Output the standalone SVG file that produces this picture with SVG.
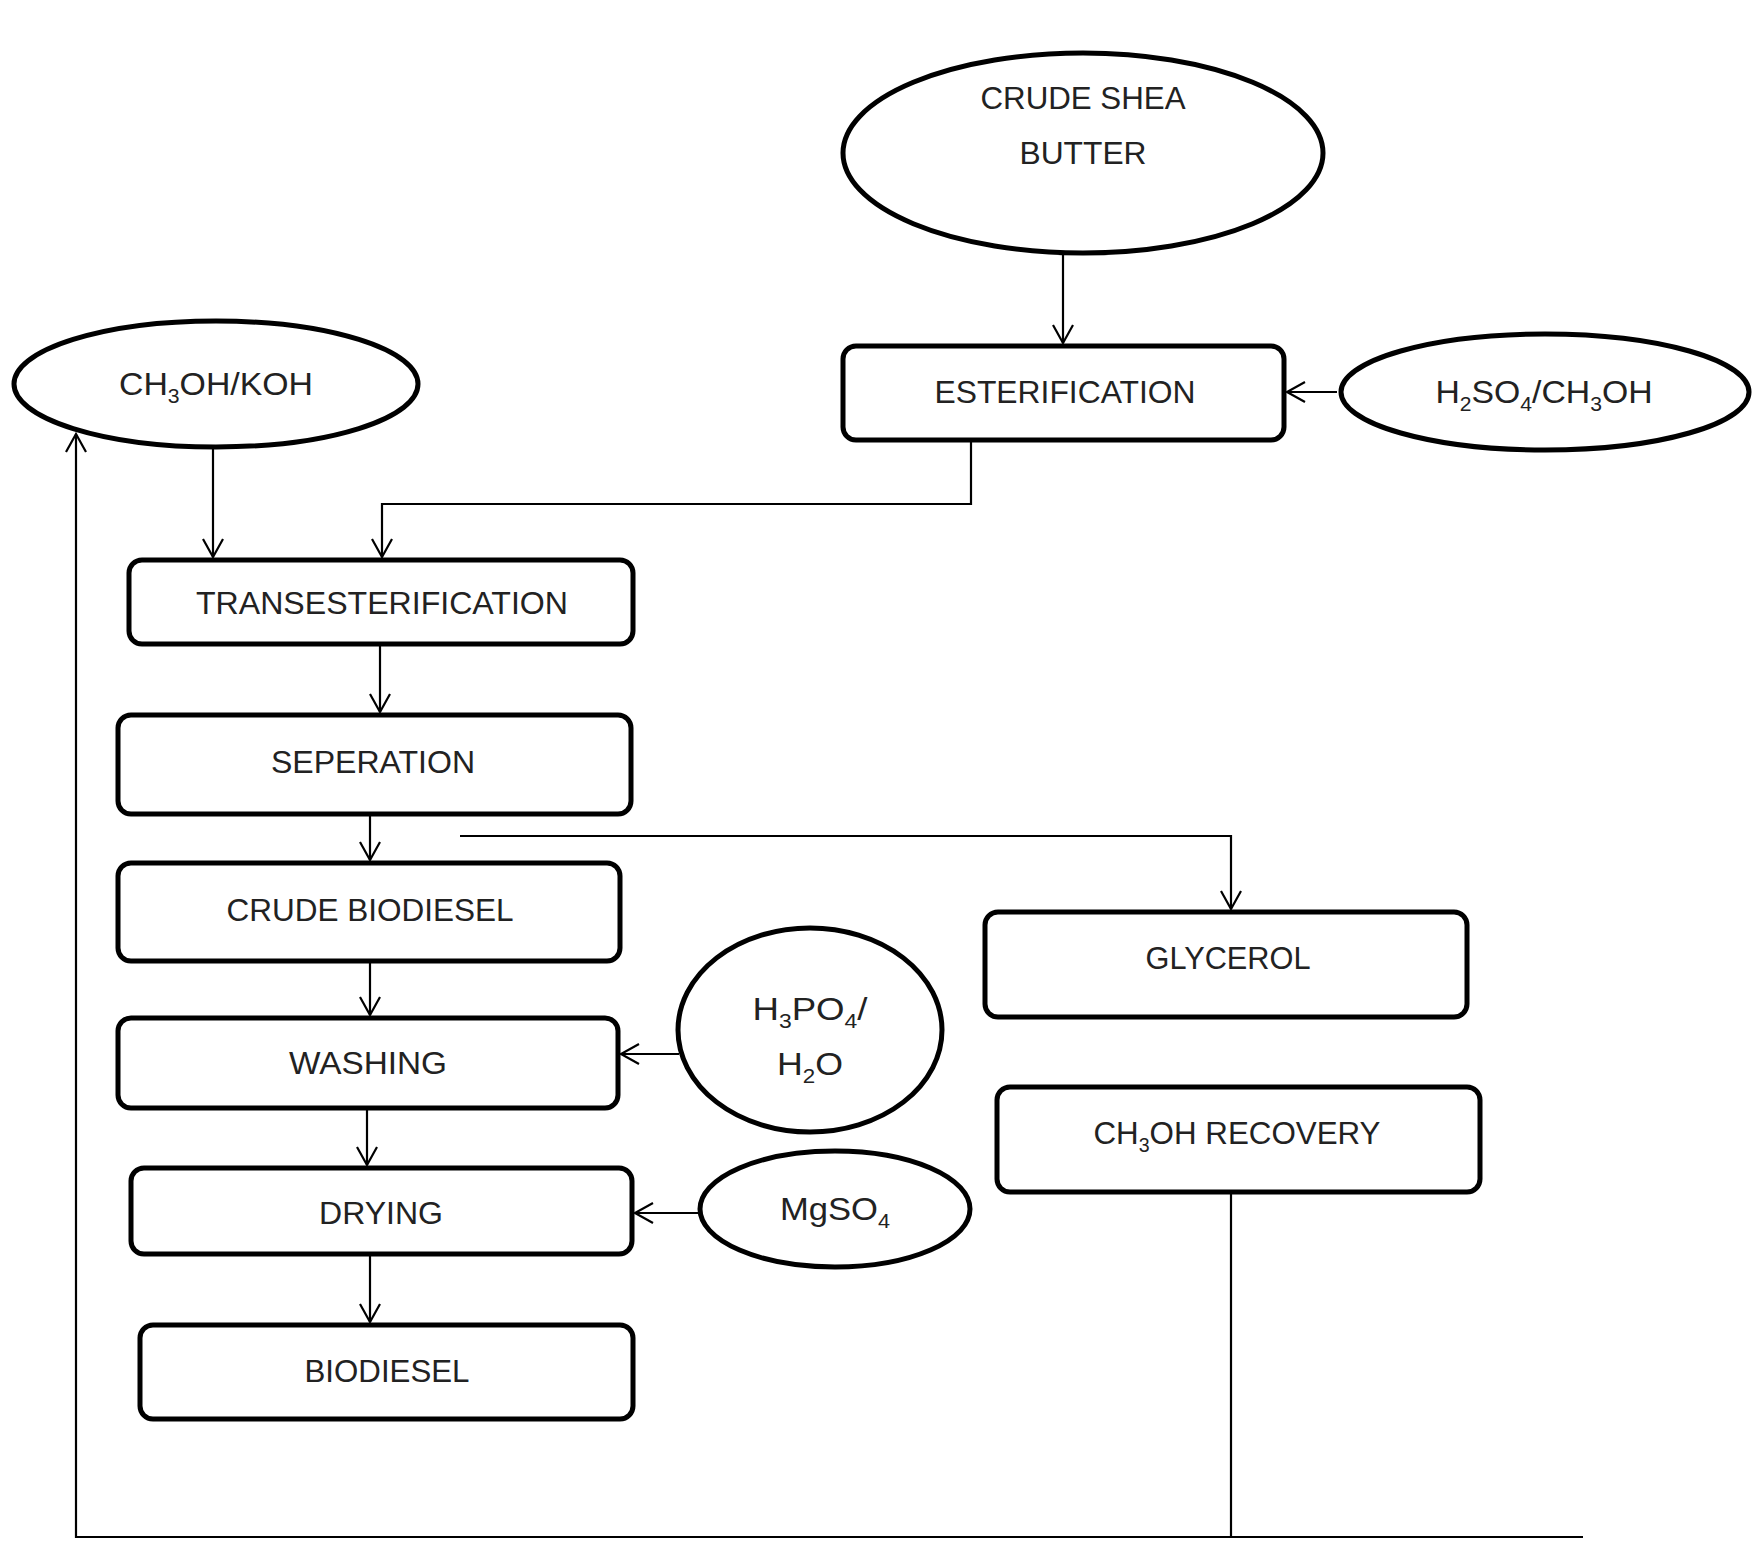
<svg xmlns="http://www.w3.org/2000/svg" width="1758" height="1557" viewBox="0 0 1758 1557">
<style>
.n{fill:#fff;stroke:#000;stroke-width:5}
.t{font-family:"Liberation Sans",Arial,sans-serif;font-size:32px;text-anchor:middle;fill:#222}
.c{fill:none;stroke:#000;stroke-width:2.2}
.s{font-size:20px}
</style>
<defs>
<marker id="a" markerWidth="24" markerHeight="24" refX="20" refY="12" orient="auto" markerUnits="userSpaceOnUse">
<path d="M2,2 L20,12 L2,22" fill="none" stroke="#000" stroke-width="2.2"/>
</marker>
</defs>
<rect width="1758" height="1557" fill="#fff"/>
<g id="connectors">
<line class="c" x1="1063" y1="225" x2="1063" y2="343" marker-end="url(#a)"/>
<line class="c" x1="1337" y1="392" x2="1287" y2="392" marker-end="url(#a)"/>
<polyline class="c" points="971,440 971,504 382,504 382,557" marker-end="url(#a)"/>
<line class="c" x1="213" y1="448" x2="213" y2="557" marker-end="url(#a)"/>
<line class="c" x1="380" y1="644" x2="380" y2="712" marker-end="url(#a)"/>
<line class="c" x1="370" y1="814" x2="370" y2="860" marker-end="url(#a)"/>
<polyline class="c" points="460,836 1231,836 1231,909" marker-end="url(#a)"/>
<line class="c" x1="370" y1="961" x2="370" y2="1015" marker-end="url(#a)"/>
<line class="c" x1="679" y1="1054" x2="621" y2="1054" marker-end="url(#a)"/>
<line class="c" x1="367" y1="1108" x2="367" y2="1165" marker-end="url(#a)"/>
<line class="c" x1="700" y1="1213" x2="635" y2="1213" marker-end="url(#a)"/>
<line class="c" x1="370" y1="1254" x2="370" y2="1322" marker-end="url(#a)"/>
<line class="c" x1="1231" y1="1192" x2="1231" y2="1537"/>
<polyline class="c" points="1583,1537 76,1537 76,434" marker-end="url(#a)"/>
</g>
<g id="shea"><ellipse class="n" cx="1083" cy="153" rx="240" ry="100"/>
<text class="t" x="1083" y="109" textLength="205" lengthAdjust="spacingAndGlyphs">CRUDE SHEA</text>
<text class="t" x="1083" y="164" textLength="127" lengthAdjust="spacingAndGlyphs">BUTTER</text></g>
<g id="esterification"><rect class="n" x="843" y="346" width="441" height="94" rx="13"/>
<text class="t" x="1065" y="403" textLength="261" lengthAdjust="spacingAndGlyphs">ESTERIFICATION</text></g>
<g id="h2so4"><ellipse class="n" cx="1545" cy="392" rx="204" ry="58"/>
<text class="t" x="1544" y="403" textLength="217" lengthAdjust="spacingAndGlyphs">H<tspan class="s" dy="8">2</tspan><tspan dy="-8">SO</tspan><tspan class="s" dy="8">4</tspan><tspan dy="-8">/CH</tspan><tspan class="s" dy="8">3</tspan><tspan dy="-8">OH</tspan></text></g>
<g id="ch3oh-koh"><ellipse class="n" cx="216" cy="384" rx="202" ry="63"/>
<text class="t" x="216" y="395" textLength="194" lengthAdjust="spacingAndGlyphs">CH<tspan class="s" dy="8">3</tspan><tspan dy="-8">OH/KOH</tspan></text></g>
<g id="transesterification"><rect class="n" x="129" y="560" width="504" height="84" rx="13"/>
<text class="t" x="382" y="614" textLength="372" lengthAdjust="spacingAndGlyphs">TRANSESTERIFICATION</text></g>
<g id="seperation"><rect class="n" x="118" y="715" width="513" height="99" rx="13"/>
<text class="t" x="373" y="773" textLength="204" lengthAdjust="spacingAndGlyphs">SEPERATION</text></g>
<g id="crude-biodiesel"><rect class="n" x="118" y="863" width="502" height="98" rx="13"/>
<text class="t" x="370" y="921" textLength="287" lengthAdjust="spacingAndGlyphs">CRUDE BIODIESEL</text></g>
<g id="glycerol"><rect class="n" x="985" y="912" width="482" height="105" rx="13"/>
<text class="t" x="1228" y="969" textLength="165" lengthAdjust="spacingAndGlyphs">GLYCEROL</text></g>
<g id="washing"><rect class="n" x="118" y="1018" width="500" height="90" rx="13"/>
<text class="t" x="368" y="1074" textLength="158" lengthAdjust="spacingAndGlyphs">WASHING</text></g>
<g id="h3po4"><ellipse class="n" cx="810" cy="1030" rx="132" ry="102"/>
<text class="t" x="810" y="1020" textLength="115" lengthAdjust="spacingAndGlyphs">H<tspan class="s" dy="8">3</tspan><tspan dy="-8">PO</tspan><tspan class="s" dy="8">4</tspan><tspan dy="-8">/</tspan></text>
<text class="t" x="810" y="1075" textLength="66" lengthAdjust="spacingAndGlyphs">H<tspan class="s" dy="8">2</tspan><tspan dy="-8">O</tspan></text></g>
<g id="drying"><rect class="n" x="131" y="1168" width="501" height="86" rx="13"/>
<text class="t" x="381" y="1224" textLength="124" lengthAdjust="spacingAndGlyphs">DRYING</text></g>
<g id="mgso4"><ellipse class="n" cx="835" cy="1209" rx="135" ry="58"/>
<text class="t" x="835" y="1220" textLength="110" lengthAdjust="spacingAndGlyphs">MgSO<tspan class="s" dy="8">4</tspan></text></g>
<g id="biodiesel"><rect class="n" x="140" y="1325" width="493" height="94" rx="13"/>
<text class="t" x="387" y="1382" textLength="165" lengthAdjust="spacingAndGlyphs">BIODIESEL</text></g>
<g id="ch3oh-recovery"><rect class="n" x="997" y="1087" width="483" height="105" rx="13"/>
<text class="t" x="1237" y="1144" textLength="287" lengthAdjust="spacingAndGlyphs">CH<tspan class="s" dy="8">3</tspan><tspan dy="-8">OH RECOVERY</tspan></text></g>
</svg>
